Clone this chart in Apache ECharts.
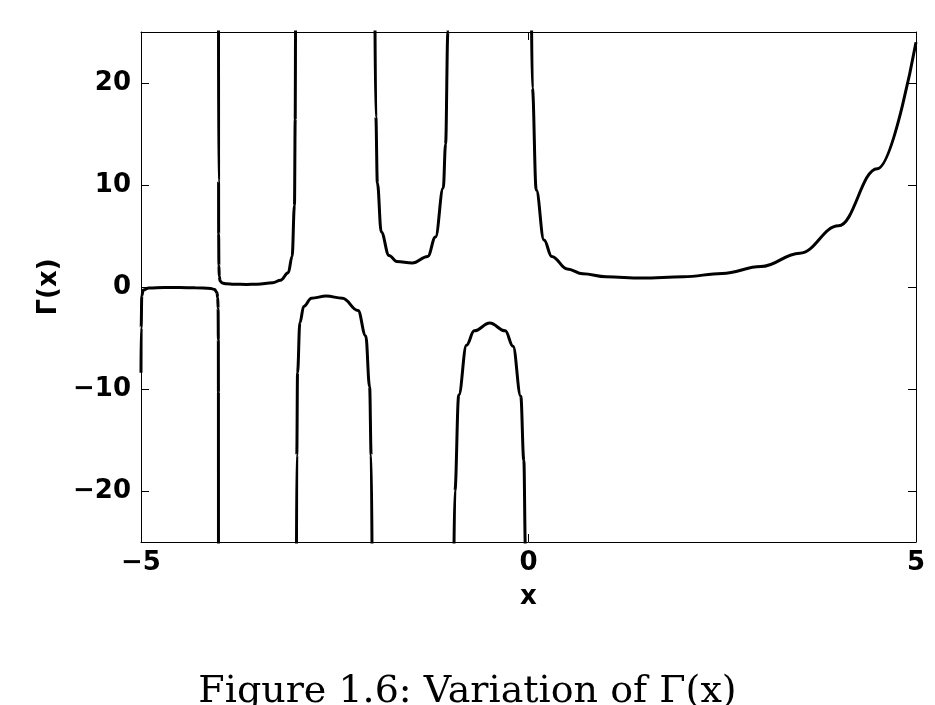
<!DOCTYPE html><html><head><meta charset="utf-8">
<script src="https://cdn.jsdelivr.net/npm/echarts@6/dist/echarts.min.js"></script>
<style>body{margin:0}#c{width:935px;height:705px}</style></head><body><div id="c"></div><script>
const xTicks=[-5,0,5];
const yTicks=[-20,-10,0,10,20];
const b1=[[-5,-8.4],[-4.998,-4],[-4.99,-0.85],[-4.97,-0.29],[-4.9,-0.09],[-4.7,-0.04],[-4.5,-0.06],[-4.3,-0.07],[-4.1,-0.14],[-4.05,-0.25],[-4.02,-0.55],[-4.01,-1.05],[-4.005,-2.1],[-4.002,-5.2],[-4.001,-10.4],[-4.0004,-26]];
const b2=[[-3.9996,26],[-3.999,10.4],[-3.998,5.2],[-3.995,2.1],[-3.99,1.05],[-3.98,0.6],[-3.95,0.38],[-3.9,0.32],[-3.8,0.27],[-3.64,0.245],[-3.5,0.27],[-3.3,0.42],[-3.2,0.66],[-3.1,1.4],[-3.05,3.0],[-3.02,8],[-3.01,16.5],[-3.006,27]];
const b3=[[-2.994,-27],[-2.99,-16.5],[-2.98,-8.4],[-2.95,-3.5],[-2.9,-1.9],[-2.8,-1.1],[-2.61,-0.89],[-2.4,-1.1],[-2.2,-2.3],[-2.1,-4.8],[-2.05,-9.8],[-2.03,-16.5],[-2.019,-26]];
const b4=[[-1.981,26],[-1.97,16.7],[-1.95,10.2],[-1.9,5.4],[-1.8,3.1],[-1.7,2.5],[-1.5,2.36],[-1.3,3.0],[-1.2,4.9],[-1.1,9.7],[-1.07,14],[-1.04,25],[-1.038,26]];
const b5=[[-0.962,-26],[-0.95,-20],[-0.9,-10.6],[-0.8,-5.7],[-0.7,-4.3],[-0.5,-3.54],[-0.3,-4.3],[-0.2,-5.8],[-0.1,-10.7],[-0.06,-17],[-0.04,-25.5],[-0.038,-26]];
const b6=[[0.039,26],[0.05,19.5],[0.1,9.5],[0.2,4.6],[0.3,3.0],[0.5,1.77],[0.7,1.30],[1,1],[1.46,0.886],[2,1],[2.5,1.33],[3,2],[3.5,3.32],[4,6],[4.5,11.6],[5,24]];
const branches=[b1,b2,b3,b4,b5,b6];
const F='DejaVu Sans';
const lab={fontFamily:F,fontWeight:'bold',fontSize:26,color:'#000'};
const minus=v=>String(v).replace('-','\u2212');
const line={onZero:false,lineStyle:{color:'#000',width:1}};
const tick={inside:true,length:8,lineStyle:{color:'#000'}};
const chart=echarts.init(document.getElementById('c'));
chart.setOption({
 animation:false,
 grid:{left:141,right:19,top:32,bottom:163},
 title:{text:'Figure 1.6: Variation of \u0393(x)',left:'center',top:668,textStyle:{fontFamily:'DejaVu Serif',fontWeight:'normal',fontSize:38,color:'#000'}},
 xAxis:[{type:'value',position:'bottom',min:-5,max:5,interval:5,name:'x',nameLocation:'middle',nameGap:42,nameTextStyle:lab,
   axisLine:line,splitLine:{show:false},axisTick:tick,axisLabel:Object.assign({formatter:minus,margin:8},lab)},
  {type:'value',position:'top',min:-5,max:5,interval:5,axisLine:line,axisTick:tick,axisLabel:{show:false},splitLine:{show:false}}],
 yAxis:[{type:'value',position:'left',min:-25,max:25,name:'\u0393(x)',nameLocation:'middle',nameGap:76,nameTextStyle:lab,
   axisLine:line,splitLine:{show:false},
   axisTick:Object.assign({customValues:yTicks},tick),axisLabel:Object.assign({formatter:minus,margin:10,customValues:yTicks},lab)},
  {type:'value',position:'right',min:-25,max:25,axisLine:line,axisTick:Object.assign({customValues:yTicks},tick),axisLabel:{show:false},splitLine:{show:false}}],
 series:branches.map(b=>({type:'line',data:b,smooth:0.4,smoothMonotone:'x',showSymbol:false,clip:true,lineStyle:{color:'#000',width:3}}))
});
</script></body></html>
